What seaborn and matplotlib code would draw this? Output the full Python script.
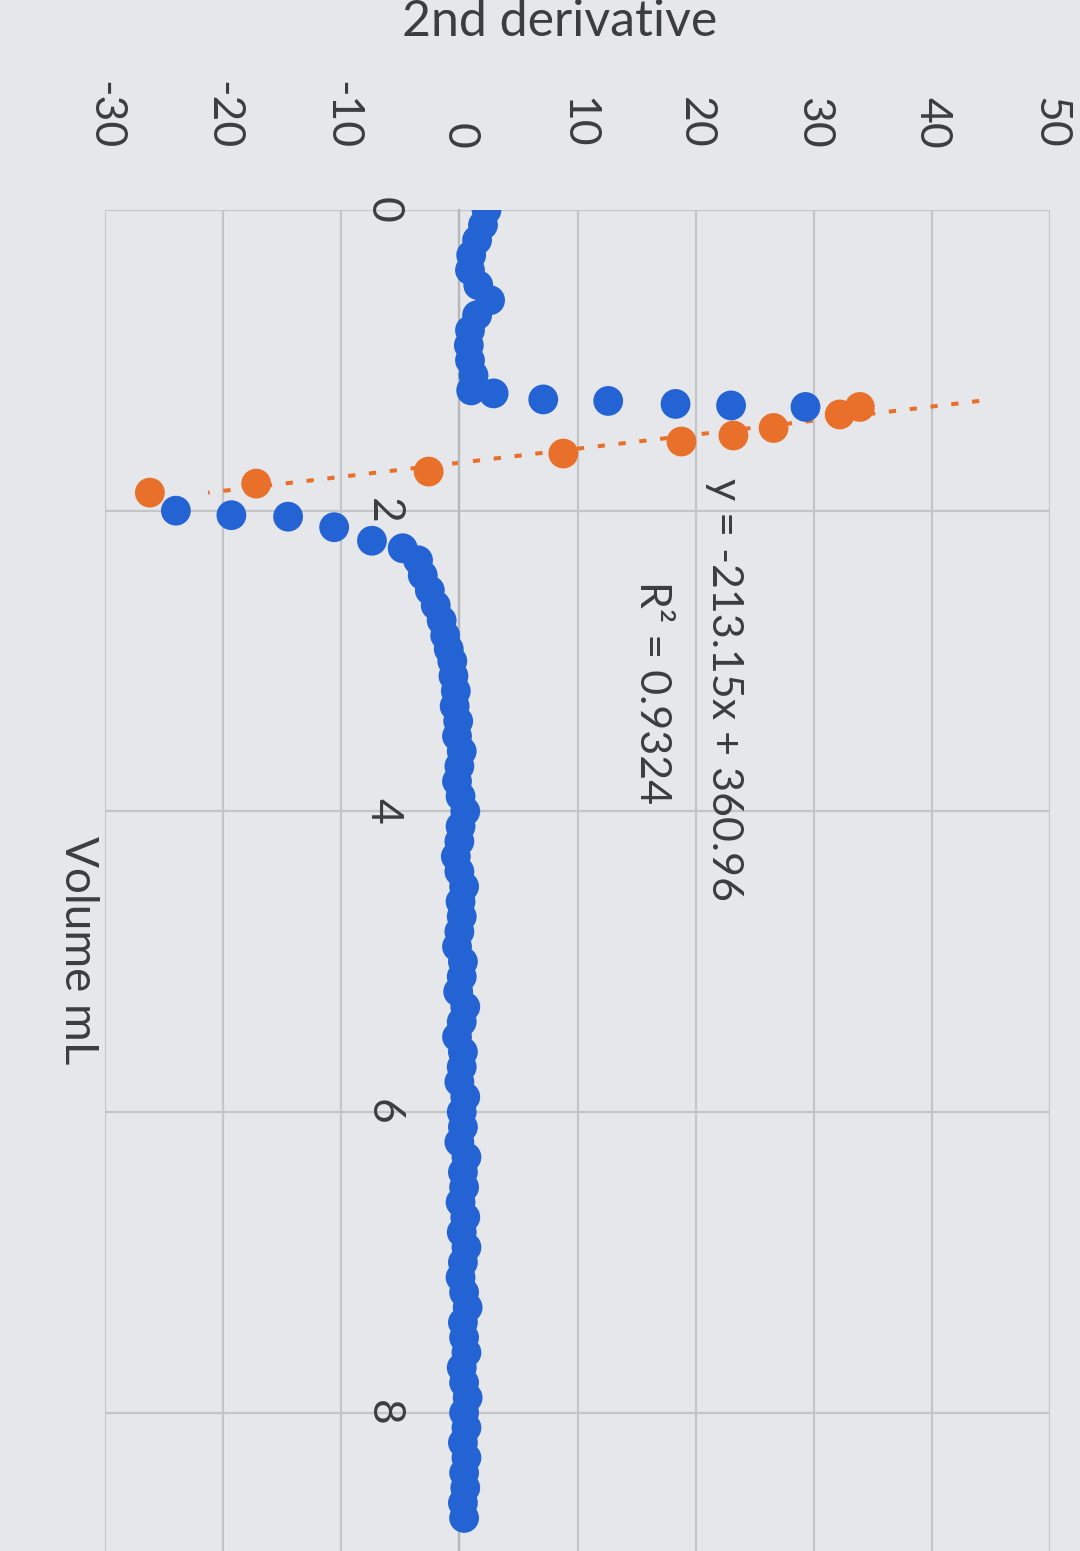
import numpy as np
import pandas as pd
import matplotlib
matplotlib.use("Agg")
import matplotlib.pyplot as plt
import seaborn as sns

# Titration 2nd derivative (chart is shown turned 90 deg clockwise)
blue_vol_start = [0.0, 0.1, 0.2, 0.3, 0.4, 0.5, 0.6, 0.7, 0.8, 0.9, 1.0, 1.1, 1.2, 1.22]
blue_val_start = [2.3, 2.0, 1.5, 1.0, 0.9, 1.6, 2.6, 1.5, 0.9, 0.8, 0.9, 1.2, 1.0, 2.9]

blue_vol_rise = [1.26, 1.27, 1.29, 1.30, 1.31]
blue_val_rise = [7.1, 12.6, 18.3, 23.0, 29.3]

blue_vol_after = [2.00, 2.03, 2.04, 2.11, 2.20, 2.25, 2.33, 2.43, 2.53, 2.63, 2.73, 2.83, 2.92]
blue_val_after = [-24.0, -19.3, -14.5, -10.6, -7.4, -4.8, -3.5, -3.1, -2.5, -2.0, -1.5, -1.2, -0.9]

blue_vol_flat = [3.0, 3.1, 3.2, 3.3, 3.4, 3.5, 3.6, 3.7, 3.8, 3.9,
                 4.0, 4.1, 4.2, 4.3, 4.4, 4.5, 4.6, 4.7, 4.8, 4.9,
                 5.0, 5.1, 5.2, 5.3, 5.4, 5.5, 5.6, 5.7, 5.8, 5.9,
                 6.0, 6.1, 6.2, 6.3, 6.4, 6.5, 6.6, 6.7, 6.8, 6.9,
                 7.0, 7.1, 7.2, 7.3, 7.4, 7.5, 7.6, 7.7, 7.8, 7.9,
                 8.0, 8.1, 8.2, 8.3, 8.4, 8.5, 8.6, 8.7]
blue_val_flat = [-0.6, -0.5, -0.3, -0.4, -0.1, -0.2, 0.2, 0.0, -0.2, 0.1,
                 0.5, 0.1, 0.0, -0.3, 0.0, 0.4, 0.1, 0.2, 0.0, -0.2,
                 0.3, 0.2, -0.1, 0.5, 0.2, -0.2, 0.3, 0.2, 0.0, 0.5,
                 0.2, 0.3, 0.0, 0.6, 0.3, 0.4, 0.1, 0.5, 0.2, 0.6,
                 0.3, 0.1, 0.4, 0.7, 0.3, 0.4, 0.6, 0.2, 0.4, 0.7,
                 0.4, 0.6, 0.3, 0.6, 0.4, 0.5, 0.3, 0.4]

# endpoint points used for the linear trendline
orange_vol = [1.31, 1.36, 1.45, 1.50, 1.54, 1.62, 1.74, 1.82, 1.88]
orange_val = [33.9, 32.2, 26.6, 23.2, 18.8, 8.8, -2.6, -17.2, -26.2]

value_ticks = [-30, -20, -10, 0, 10, 20, 30, 40, 50]
volume_ticks = [0, 2, 4, 6, 8]
equation = "y = -213.15x + 360.96"
r_squared = "R² = 0.9324"

blue_vol = blue_vol_start + blue_vol_rise + blue_vol_after + blue_vol_flat
blue_val = blue_val_start + blue_val_rise + blue_val_after + blue_val_flat
df = pd.DataFrame({
    "volume": blue_vol + orange_vol,
    "deriv": blue_val + orange_val,
    "series": ["blue"] * len(blue_vol) + ["orange"] * len(orange_vol),
})

sns.set_style("white")
plt.rcParams["font.family"] = ["Lato", "DejaVu Sans"]
plt.rcParams["axes.unicode_minus"] = False

bg = "#e6e7ea"
grid_col = "#c3c5c9"
text_col = "#3a3d42"
blue = "#2463d4"
orange = "#e8702a"

fig = plt.figure(figsize=(10.8, 15.51), dpi=100, facecolor=bg)
ax = fig.add_axes([105 / 1080, 0, 945 / 1080, 1341 / 1551], facecolor=bg)

sns.scatterplot(data=df, x="deriv", y="volume", hue="series",
                palette={"blue": blue, "orange": orange}, s=460, linewidth=0,
                legend=False, ax=ax, zorder=3)

# linear trendline on the orange points, forecast a little backward like Excel does
slope, icpt = np.polyfit(orange_vol, orange_val, 1)
v_line = np.array([min(orange_vol) - 0.04, max(orange_vol)])
ax.plot(slope * v_line + icpt, v_line, color=orange, lw=2.9,
        linestyle=(0, (1.8, 3.4)), zorder=2)

ax.set_xlim(-30, 50)
ax.set_ylim(8.92, 0)
ax.set_xticks(value_ticks)
ax.set_yticks(volume_ticks)
ax.set_axisbelow(True)
ax.grid(True, color=grid_col, lw=1.6)

for side in ["top", "right", "bottom"]:
    ax.spines[side].set_visible(False)
ax.spines["left"].set_position(("data", 0))
ax.spines["left"].set_color("#b5b7bb")
ax.spines["left"].set_linewidth(1.6)

ax.xaxis.tick_top()
ax.tick_params(axis="x", length=0, pad=44, labelsize=32, labelcolor=text_col,
               labelrotation=270)
ax.tick_params(axis="y", length=0, pad=40, labelsize=32, labelcolor=text_col,
               labelrotation=270)
for lab in ax.get_yticklabels():
    lab.set_va("center")
ax.set_xlabel("")
ax.set_ylabel("")

ax.text(22.4, 3.19, equation, rotation=270, ha="center", va="center",
        fontsize=31, color=text_col)
ax.text(16.3, 3.21, r_squared, rotation=270, ha="center", va="center",
        fontsize=31, color=text_col)

fig.text(560 / 1080, 1 - 22 / 1551, "2nd derivative", ha="center", va="center",
         fontsize=36, color=text_col)
fig.text(78 / 1080, 1 - 950 / 1551, "Volume mL", rotation=270, ha="center",
         va="center", fontsize=33, color=text_col)

fig.savefig("out.png", dpi=100, facecolor=bg)
